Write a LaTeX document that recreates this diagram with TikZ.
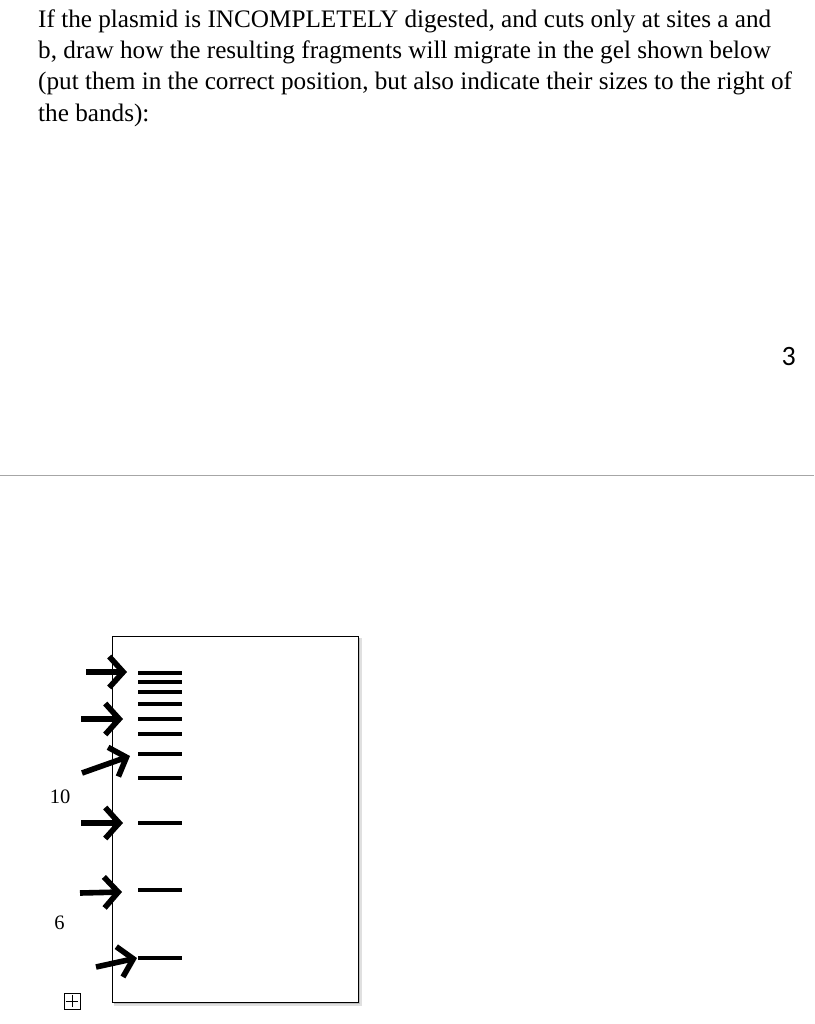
\documentclass[tikz,border=0pt]{standalone}
\usepackage{fontspec}
\setmainfont{Liberation Serif}
\newfontfamily\numfont{Carlito}
\usetikzlibrary{arrows.meta}
\begin{document}
\begin{tikzpicture}[x=1pt,y=-1pt,
  hdr/.style={anchor=base west, inner sep=0pt, font=\fontsize{25.2}{30}\selectfont},
  band/.style={line width=3.4pt},
  pointer/.style={line width=5.6pt, -{Straight Barb[length=14pt,width=31pt]}},
  lbl/.style={anchor=base, inner sep=0pt, font=\fontsize{20.5}{24}\selectfont}]
\useasboundingbox[fill=white] (0,0) rectangle (814,1024);
% header
\node[hdr] (l1) at (38,27.5) {If the plasmid is INCOMPLETELY digested, and cuts only at sites a and};
\node[hdr] (l2) at (38,58.8) {b, draw how the resulting fragments will migrate in the gel shown below};
\node[hdr] (l3) at (38,90) {(put them in the correct position, but also indicate their sizes to the right of};
\node[hdr] (l4) at (38,121.3) {the bands):};
\node[anchor=base, inner sep=0pt, font=\numfont\fontsize{28}{32}\selectfont] (pg) at (788.7,365.7) {3};
% separator
\coordinate (sepL) at (0,475);
\coordinate (sepR) at (814,475);
\draw[gray!70, line width=1pt] (sepL) -- (sepR);
% gel
\fill[black!12] (114,638) rectangle (362,1006);
\fill[black!25] (114,638) rectangle (360,1004);
\node[draw, fill=white, line width=1.3pt, anchor=north west, minimum width=246pt, minimum height=366pt, inner sep=0pt] (gel) at (112,636) {};
% bands
\foreach \i/\y in {1/673,2/682,3/692,4/704,5/719,6/734,7/754,8/778,9/823,10/890,11/958}{
  \coordinate (b\i L) at (138,\y);
  \coordinate (b\i R) at (182,\y);
  \draw[band] (b\i L) -- (b\i R);
}
% arrows
\coordinate (a1s) at (86,672);  \coordinate (a1e) at (127,672);
\coordinate (a2s) at (81,719);  \coordinate (a2e) at (123,719);
\coordinate (a3s) at (82,773);  \coordinate (a3e) at (130,756);
\coordinate (a4s) at (81,823);  \coordinate (a4e) at (123,823);
\coordinate (a5s) at (80,893);  \coordinate (a5e) at (122,892);
\coordinate (a6s) at (96,967);  \coordinate (a6e) at (137,958);
\foreach \k in {1,...,6}{ \draw[pointer] (a\k s) -- (a\k e); }
% labels
\node[lbl] (t10) at (60,803.3) {10};
\node[lbl] (t6) at (59.5,929.3) {6};
% boxed plus
\node[draw, line width=0.9pt, minimum size=16pt, inner sep=0pt] (plus) at (72,1001) {};
\draw[line width=0.9pt] ([yshift=-2pt]plus.north) -- ([yshift=2pt]plus.south) ([xshift=2pt]plus.west) -- ([xshift=-2pt]plus.east);
\end{tikzpicture}
\end{document}
